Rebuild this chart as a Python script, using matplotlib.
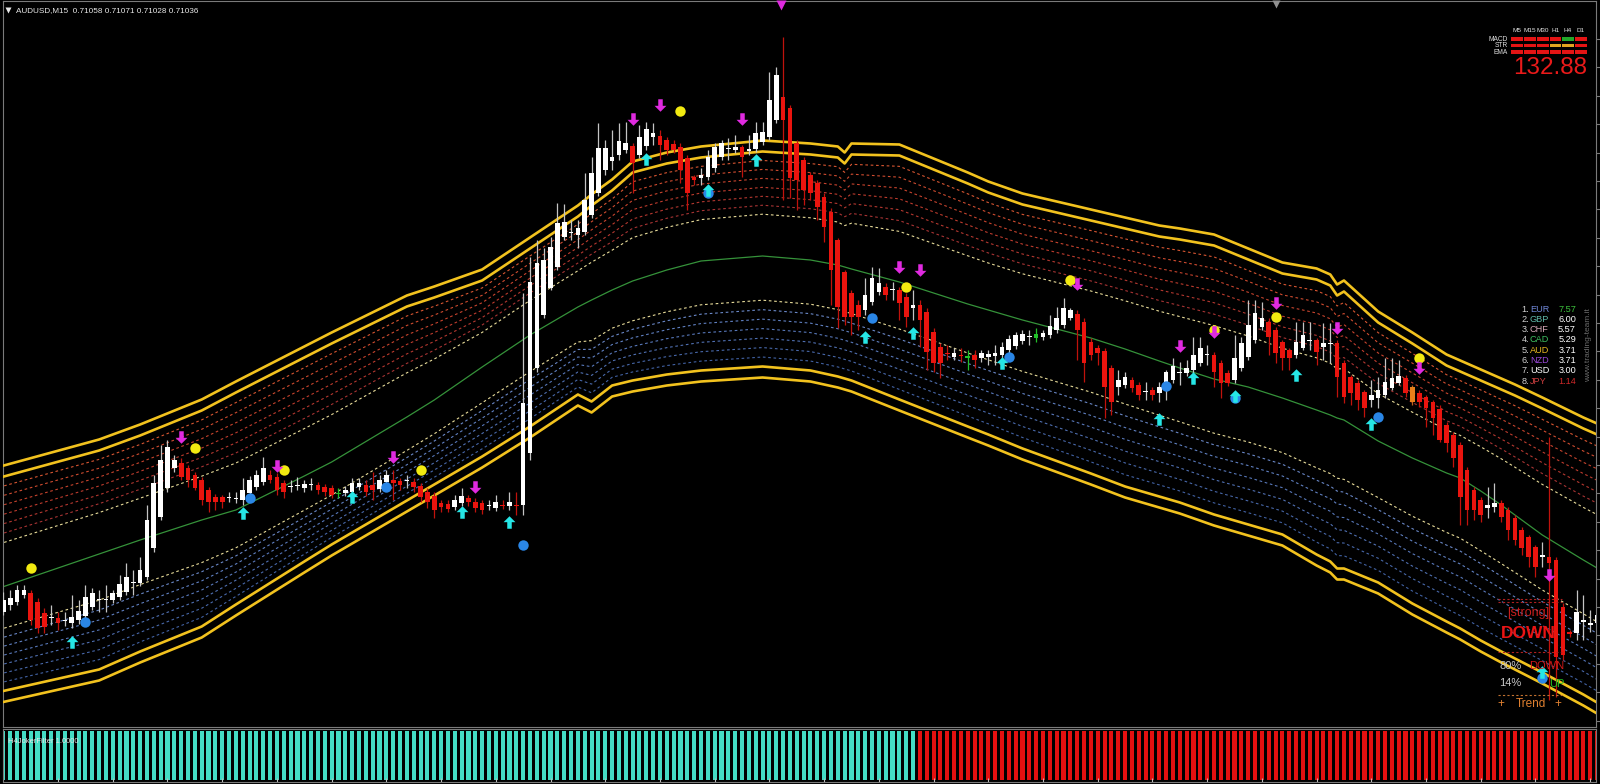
import numpy as np
import matplotlib
matplotlib.use("Agg")
import matplotlib.pyplot as plt
from matplotlib.path import Path
from matplotlib.patches import Rectangle
from matplotlib.collections import LineCollection, PatchCollection

plt.rcParams['font.family'] = ['Liberation Sans', 'DejaVu Sans']

# ---------------------------------------------------------------- data
title_text = "AUDUSD,M15  0.71058 0.71071 0.71028 0.71036"

# candle prices (points above the chart floor)
opens = [108,115,118,125,127,118,107,102,102,99, 97,100,104,113,120,120,120,123,128,137,
         137,143,172,203,232,252,257,252,245,240, 230,223,223,222,221,220,227,233,238,245,
         243,237,233,234,232,235,235,233,232,226, 227,228,233,235,235,231,238,240,239,239,
         238,234,228,224,217,216,213,217,222,218, 217,214,212,215,214,215,215,267,352,405,
         432,453,483,487,485,488,505,527,550,559, 565,570,574,565,574,583,584,580,576,573,
         562,543,542,543,552,563,571,570,573,569, 571,578,583,600,623,612,577,560,545,537,
         523,508,480,448,427,415,410,418,428,433, 430,430,423,412,415,408,388,373,367,363,
         365,362,365,362,363,364,365,370,374,379, 383,382,383,385,390,395,402,406,398,378,
         372,369,352,333,335,340,335,328,330,327, 330,340,347,347,350,357,365,365,357,347,
         340,352,363,380,393,398,390,378,370,365, 372,379,380,373,376,377,357,343,337,328,
         320,322,325,332,337,342,333,327,323,318, 311,295,285,275,250,230,220,212,213,217,
         210,202,190,183,173,163,163,160,113,88, 87,98,95,97]
closes = [120,122,130,130,100,92,93,103,97,100, 103,109,123,127,121,121,127,136,143,138,
          150,200,237,260,273,260,243,240,232,220, 218,218,218,223,222,230,240,245,252,240,
          230,228,234,235,236,236,230,228,225,227, 230,237,237,228,230,240,245,237,235,240,
          233,223,218,210,213,211,220,224,218,212, 210,215,218,214,218,214,317,438,457,460,
          473,497,498,488,492,520,547,572,572,563, 579,577,557,583,591,587,575,570,570,550,
          527,540,545,563,573,577,572,573,563,571, 587,588,620,645,600,542,540,530,527,513,
          493,450,413,403,403,403,425,442,437,425, 431,417,403,415,400,368,357,357,366,367,
          364,364,360,367,366,367,373,381,385,386, 384,386,387,394,402,412,410,390,357,365,
          367,333,318,340,343,332,325,329,325,333, 348,354,348,352,365,372,366,348,337,337,
          362,377,395,407,402,383,367,362,362,378, 385,380,368,377,377,343,323,327,320,312,
          325,330,338,342,344,327,318,318,312,302, 280,277,262,223,210,210,205,215,217,203,
          190,180,172,163,153,165,157,63,65,86, 108,100,97,105]
highs = [128,130,135,135,130,122,112,115,108,108, 125,120,135,132,130,135,130,145,157,150,
         163,215,245,275,280,265,262,255,248,243, 233,226,225,228,228,242,244,250,263,250,
         247,240,240,243,240,242,238,236,235,232, 234,242,242,240,248,245,250,250,242,245,
         242,237,232,228,220,220,225,232,225,222, 220,220,225,220,228,228,427,463,480,472,
         483,517,516,500,500,547,563,597,580,590, 597,598,577,595,598,597,590,583,580,577,
         565,545,552,570,577,580,582,585,575,585, 598,598,648,653,683,615,580,563,548,540,
         527,512,482,450,430,420,442,453,452,437, 438,433,427,430,420,412,392,377,375,372,
         372,370,370,370,370,375,378,385,388,390, 390,392,390,405,413,422,412,410,402,382,
         375,372,355,350,348,343,338,338,333,338, 350,362,358,360,383,383,375,368,360,350,
         385,383,420,420,418,402,393,380,372,398, 398,398,382,397,397,380,360,345,340,330,
         340,343,362,362,360,345,335,330,325,320, 315,298,288,278,253,233,223,233,237,220,
         213,205,193,185,175,178,283,163,117,90, 130,125,110,125]
lows = [105,110,115,122,95,87,87,95,90,94, 92,96,102,110,108,108,117,120,125,125,
        134,140,168,200,228,248,240,233,230,215, 208,210,212,218,217,215,223,230,235,237,
        225,222,228,230,228,230,226,224,222,222, 224,225,230,224,220,228,235,220,230,232,
        228,218,212,202,208,208,210,214,214,208, 206,210,209,211,210,205,205,260,348,402,
        430,450,480,480,472,485,502,524,545,550, 560,567,527,562,570,575,560,565,567,537,
        510,535,535,540,548,560,560,567,543,565, 568,575,580,597,520,522,510,515,520,500,
        478,415,392,395,385,390,405,415,425,420, 420,400,393,400,373,350,348,342,360,360,
        358,350,352,358,355,355,362,367,371,376, 375,378,380,382,387,392,400,360,338,360,
        355,302,305,325,332,328,320,320,320,318, 320,337,335,344,347,354,355,333,322,334,
        337,349,360,377,390,365,357,350,350,362, 370,370,355,360,357,323,317,315,310,303,
        313,312,322,330,335,323,315,313,293,285, 278,268,253,195,195,200,198,202,208,198,
        180,175,165,153,143,153,20,23,60,83, 80,80,88,93]
green_candles = [49, 141, 151]
orange_candles = [206]

# envelope indicator: anchor candles and levels
band_idx = [-1,14,20,29,34,44,48,59,63,70,77,84,86,89,92,97,102,111,118,122,123,124,131,141,144,
            149,159,164,169,172,177,182,187,192,194,195,196,201,206,211,213,216,219,221,225,231,234]
ma_center = [131,166,180,200,210,244,258,303,320,353,385,413,420,430,439,450,459,464,460,455,453,451,
             438,416,410,400,382,371,359,352,341,333,322,310,305,302,300,279,262,247,242,229,215,205,
             185,160,148]
upper_env = [247,275,290,315,333,368,382,419,428,445,477,509,520,535,553,562,568,574,571,568,562,571,
             570,542,533,521,505,497,489,486,480,466,452,446,440,430,434,403,382,360,354,345,336,330,
             317,297,288]
lower_env = [22,45,63,88,110,153,170,214,230,258,288,320,313,329,334,340,344,348,344,338,336,334,
             315,288,280,266,241,228,218,212,200,190,180,160,153,146,146,132,111,93,86,74,63,56,
             42,20,8]

# signals (candle index, price)
sell_arrows = [(26,283),(40,254),(57,263),(69,233),(92,601),(96,615),(108,601),(131,453),(134,450),
               (157,436),(172,374),(177,388),(186,417),(195,392),(207,352),(226,145)]
buy_arrows = [(10,78),(35,207),(51,223),(67,208),(74,198),(94,561),(103,530),(110,560),(126,383),
              (133,387),(146,357),(169,301),(174,342),(180,324),(189,345),(200,296),(225,48)]
blue_dots = [(12,98),(36,222),(56,233),(76,175),(103,527),(127,402),(147,363),(170,334),(180,322),
             (201,303),(225,42)]
yellow_dots = [(4,152),(28,272),(41,250),(61,250),(99,609),(132,433),(156,440),(177,390),(186,403),
               (207,362)]

# filter histogram runs
filter_runs = [("up", 134), ("down", 100)]
filter_label = "H4JokerFilter 1.0000"

# multi-timeframe panel
mtf_periods = ["M5", "M15", "M30", "H1", "H4", "D1"]
mtf_rows = ["MACD", "STR", "EMA"]
mtf_states = [["d", "d", "d", "d", "u", "d"],
              ["d", "d", "d", "n", "n", "d"],
              ["d", "d", "d", "d", "d", "d"]]
mtf_value = "132.88"

# currency strength
cur_names = ["EUR", "GBP", "CHF", "CAD", "AUD", "NZD", "USD", "JPY"]
cur_values = ["7.57", "6.00", "5.57", "5.29", "3.71", "3.71", "3.00", "1.14"]
cur_colors = ["#6f86d6", "#5fb8a8", "#d8a8b8", "#3fc060", "#e8b820", "#9a48d8", "#ffffff", "#d04040"]
cur_val_colors = ["#3cc03c", "#ffffff", "#ffffff", "#ffffff", "#ffffff", "#ffffff", "#ffffff", "#d02828"]

trend_word = "DOWN"
trend_pcts = [("80%", "DOWN"), ("14%", "UP")]

# ---------------------------------------------------------------- figure
W, H = 1600.0, 784.0
fig = plt.figure(figsize=(16, 7.84), dpi=100)
fig.patch.set_facecolor("black")


def rect(x0, y0, x1, y1):
    return [x0 / W, 1 - y1 / H, (x1 - x0) / W, (y1 - y0) / H]


GRID = "#7a7a7a"
ax = fig.add_axes(rect(3, 1, 1596, 727))
ax.set_facecolor("black")
ax.set_xlim(-0.05, 232.85)
ax.set_ylim(-7, 719)
for s in ax.spines.values():
    s.set_color(GRID)
    s.set_linewidth(0.8)
ax.set_xticks([])
ax.yaxis.tick_right()
ax.set_yticks(np.arange(681, -7, -28.4))
ax.tick_params(axis="y", direction="out", length=3, color=GRID, labelright=False, width=0.8)

# --- envelope bands
bi = np.array(band_idx, float)
g = np.array(ma_center, float)
um = np.array(upper_env, float)
lm = np.array(lower_env, float)
u_in, u_out = um - 5.5, um + 5.5
l_in, l_out = lm + 5.5, lm - 5.5

red_cols = ["#a83434", "#b43830", "#be3c2e", "#c8442e", "#d04c30", "#d85632"]
blue_cols = ["#6a88c8", "#6080c2", "#5878ba", "#5070b2", "#4868aa", "#4262a4"]
dash = (0, (2.4, 2.4))
for k in range(1, 7):
    f = 0.4 + k * 0.6 / 7
    ax.plot(bi, g + f * (u_in - g), color=red_cols[k - 1], lw=0.8, ls=dash, zorder=2)
    ax.plot(bi, g + f * (l_in - g), color=blue_cols[k - 1], lw=0.8, ls=dash, zorder=2)
ax.plot(bi, g + 0.4 * (u_in - g), color="#e8dc9a", lw=0.8, ls=dash, zorder=2)
ax.plot(bi, g + 0.4 * (l_in - g), color="#e8dc9a", lw=0.8, ls=dash, zorder=2)
ax.plot(bi, g, color="#35923a", lw=0.9, zorder=2)
for line in (u_in, u_out, l_in, l_out):
    ax.plot(bi, line, color="#f2c21e", lw=1.9, zorder=3, solid_joinstyle="round")

# --- candles
O = np.array(opens, float)
C = np.array(closes, float)
Hh = np.array(highs, float)
Ll = np.array(lows, float)
n = len(O)
bw = 0.68
wicks, wcols, bodies, bcols = [], [], [], []
for i in range(n):
    bull = C[i] >= O[i]
    if i in green_candles:
        bc, wc = "#22c02a", "#22c02a"
    elif i in orange_candles:
        bc, wc = "#e8801a", "#c0601a"
    elif bull:
        bc, wc = "#ffffff", "#c4c4c4"
    else:
        bc, wc = "#ea140e", "#c0120c"
    wicks.append([(i, Ll[i]), (i, Hh[i])])
    wcols.append(wc)
    lo = min(O[i], C[i])
    h = abs(C[i] - O[i])
    if h < 1.4:
        lo = (O[i] + C[i]) / 2 - 0.7
        h = 1.4
    bodies.append(Rectangle((i - bw / 2, lo), bw, h))
    bcols.append(bc)
ax.add_collection(LineCollection(wicks, colors=wcols, linewidths=0.9, zorder=4))
ax.add_collection(PatchCollection(bodies, facecolors=bcols, edgecolors="none", zorder=5))

# --- signal markers
arrow_up = Path([(0, 1), (0.95, 0.05), (0.36, 0.05), (0.36, -1), (-0.36, -1), (-0.36, 0.05),
                 (-0.95, 0.05), (0, 1)],
                [Path.MOVETO] + [Path.LINETO] * 6 + [Path.CLOSEPOLY])
arrow_dn = Path([(x, -y) for x, y in arrow_up.vertices], arrow_up.codes)

bx, by = zip(*blue_dots)
ax.plot(bx, by, "o", color="#2a86e6", ms=7.5, mec="none", zorder=6, ls="none")
yx, yy = zip(*yellow_dots)
ax.plot(yx, yy, "o", color="#f2ea10", ms=7.5, mec="none", zorder=6, ls="none")
sx, sy = zip(*sell_arrows)
ax.plot(sx, sy, marker=arrow_dn, color="#e02ae0", ms=9, mec="none", zorder=7, ls="none")
ux, uy = zip(*buy_arrows)
ax.plot(ux, uy, marker=arrow_up, color="#26e6e6", ms=9, mec="none", zorder=7, ls="none")

# --- bottom filter panel
ax2 = fig.add_axes(rect(3, 729, 1596, 782))
ax2.set_facecolor("black")
ax2.set_xlim(ax.get_xlim())
ax2.set_ylim(0, 1)
for s in ax2.spines.values():
    s.set_color(GRID)
    s.set_linewidth(0.8)
states = []
for st, cnt in filter_runs:
    states += [st] * cnt
states = states[:n]
fcols = ["#44dcc4" if s == "up" else "#e41010" for s in states]
ax2.bar(np.arange(len(states)), 0.92, bottom=0.04, width=0.6, color=fcols, linewidth=0)
ax2.set_yticks([])
ax2.set_xticks(np.arange(8, n, 8))
ax2.tick_params(axis="x", direction="in", length=3, color="#bbbbbb", labelbottom=False, width=0.8)
ax2.text(0.003, 0.76, filter_label, transform=ax2.transAxes, color="#e6e6e6", fontsize=5.5,
         va="center", ha="left")

# --- overlay (pixel coordinates)
ov = fig.add_axes([0, 0, 1, 1])
ov.set_xlim(0, W)
ov.set_ylim(H, 0)
ov.axis("off")
ov.patch.set_alpha(0)

ov.plot([8], [10], marker="v", color="#e8e8e8", ms=4.5, mec="none")
ov.text(16, 10.5, title_text, color="#e8e8e8", fontsize=5.9, va="center", ha="left")
ov.plot([781], [4.5], marker="v", color="#e02ae0", ms=7, mec="none")
ov.plot([1276], [4], marker="v", color="#909090", ms=6, mec="none")

# multi timeframe panel
col_x = [1517, 1530, 1543, 1555.5, 1568, 1581]
row_y = [39, 45.5, 52]
state_col = {"d": "#e41414", "u": "#22a82a", "n": "#e0a420"}
for cx, p in zip(col_x, mtf_periods):
    ov.text(cx, 30, p, color="#e0e0e0", fontsize=4.6, ha="center", va="center")
for ry, rname, rstates in zip(row_y, mtf_rows, mtf_states):
    ov.text(1508, ry, rname, color="#e0e0e0", fontsize=4.8, ha="right", va="center")
    for cx, st in zip(col_x, rstates):
        ov.add_patch(Rectangle((cx - 5.6, ry - 1.9), 11.2, 3.8, color=state_col[st], lw=0))
ov.text(1550, 68, mtf_value, color="#ea1a1a", fontsize=17.5, ha="center", va="center")

# currency strength list
for k, (nm, val, cc, vc) in enumerate(zip(cur_names, cur_values, cur_colors, cur_val_colors)):
    yy_ = 309 + 10.3 * k
    ov.text(1529, yy_, f"{k + 1}.", color="#d0d0d0", fontsize=6.6, ha="right", va="center")
    ov.text(1530, yy_, nm, color=cc, fontsize=6.6, ha="left", va="center")
    ov.text(1576, yy_, val, color=vc, fontsize=6.6, ha="right", va="center")
ov.text(1589, 345, "www.trading-team.it", color="#6a6a6a", fontsize=6, rotation=90,
        ha="center", va="center")

# trend box
ov.plot([1498, 1562], [598.5, 598.5], color="#b02020", lw=0.8, ls=(0, (2, 2)))
ov.plot([1498, 1562], [602, 602], color="#b02020", lw=0.8, ls=(0, (2, 2)))
ov.text(1528, 613, "[strong]", color="#c81e1e", fontsize=9, ha="center", va="center")
ov.text(1528, 633, trend_word, color="#ea1414", fontsize=12.5, fontweight="heavy",
        ha="center", va="center")
ov.plot([1498, 1562], [652, 652], color="#b02020", lw=0.8, ls=(0, (2, 2)))
ov.text(1499, 666, trend_pcts[0][0], color="#c8c8c8", fontsize=8, ha="left", va="center")
ov.text(1529, 666, trend_pcts[0][1], color="#d01818", fontsize=8, ha="left", va="center")
ov.text(1499, 683, trend_pcts[1][0], color="#c8c8c8", fontsize=8, ha="left", va="center")
ov.text(1549, 684, trend_pcts[1][1], color="#22c022", fontsize=8, ha="left", va="center")
ov.plot([1498, 1562], [695, 695], color="#c07030", lw=0.8, ls=(0, (2, 2)))
ov.text(1501, 704, "+", color="#e08030", fontsize=8.5, ha="center", va="center")
ov.text(1531, 704, "Trend", color="#e08030", fontsize=8.5, ha="center", va="center")
ov.text(1558, 704, "+", color="#e08030", fontsize=8.5, ha="center", va="center")

fig.savefig("out.png", dpi=100, facecolor="black")
